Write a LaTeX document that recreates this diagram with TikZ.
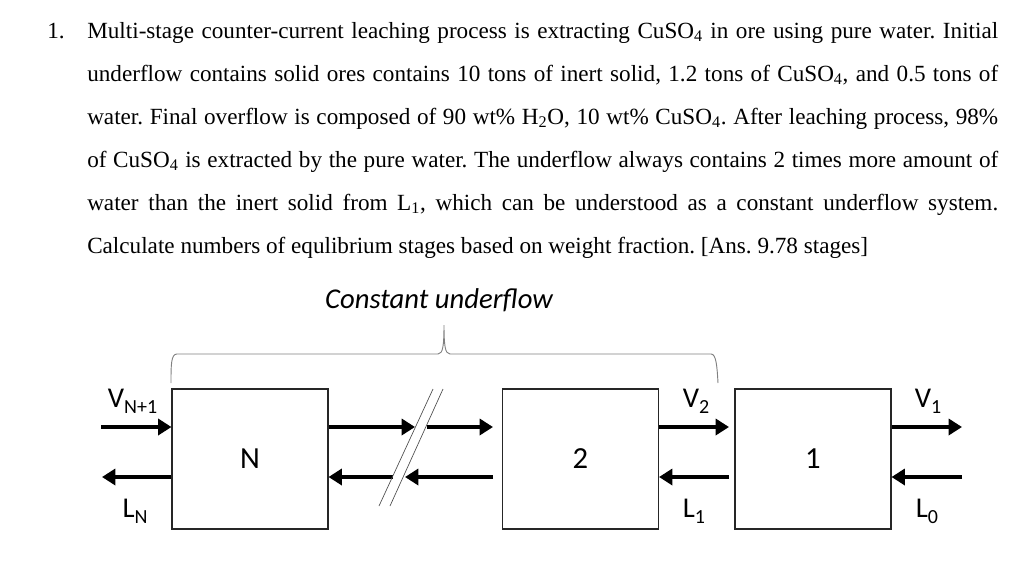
\documentclass[tikz,border=0pt]{standalone}
\usepackage{fontspec}
\setmainfont{Liberation Serif}
\newfontfamily\labelfont{Carlito}
\usetikzlibrary{positioning,calc,arrows.meta}
\newcommand{\lowsub}[1]{\raisebox{-0.45ex}{\fontsize{15}{15}\selectfont #1}}
\tikzset{
    stage/.style={draw=black!85, line width=0.8pt, minimum width=117pt, minimum height=105pt, inner sep=0pt, font=\labelfont\fontsize{23}{27}\selectfont},
    flow/.style={line width=3.4pt, -{Triangle[length=10pt,width=12pt]}},
    flowlabel/.style={font=\labelfont\fontsize{21.5}{25}\selectfont, inner sep=0pt, anchor=base},
    breakmark/.style={draw=black!70, line width=0.5pt},
    bracket/.style={draw=black!50, line width=0.7pt}
}

\begin{document}
\begin{tikzpicture}[x=0.75pt, y=-0.75pt]
    \useasboundingbox (0, 0) rectangle (1018, 579);

    % Problem statement
    \node[anchor=base west, inner sep=0pt, font=\fontsize{17.37}{32.25}\selectfont] (number) at (47, 38) {1.};
    \node[anchor=north west, inner sep=0pt, text width=683.25pt, align=justify, font=\fontsize{17.37}{32.25}\selectfont\frenchspacing] (problem) at (87, 22) {Multi-stage counter-current leaching process is extracting CuSO\textsubscript{4} in ore using pure water. Initial\linebreak
    underflow contains solid ores contains 10 tons of inert solid, 1.2 tons of CuSO\textsubscript{4}, and 0.5 tons of\linebreak
    water. Final overflow is composed of 90 wt\% H\textsubscript{2}O, 10 wt\% CuSO\textsubscript{4}. After leaching process, 98\%\linebreak
    of CuSO\textsubscript{4} is extracted by the pure water. The underflow always contains 2 times more amount of\linebreak
    water than the inert solid from L\textsubscript{1}, which can be understood as a constant underflow system.\linebreak
    Calculate numbers of equlibrium stages based on weight fraction. [Ans. 9.78 stages]};

    % Stages
    \node[stage] (stageN) at (250, 459) {N};
    \node[stage] (stage2) at (580.5, 459) {2};
    \node[stage] (stage1) at (813, 459) {1};

    % Free ends of the streams
    \coordinate (feedV) at (101, 427);
    \coordinate (feedL) at (962, 477);
    \coordinate (endLN) at (102, 477);
    \coordinate (endV1) at (962, 427);
    \coordinate (gapV1) at (415, 427);
    \coordinate (gapV2) at (427, 427);
    \coordinate (gapL1) at (405, 477);
    \coordinate (gapL2) at (393, 477);
    \coordinate (stopV) at (493, 427);
    \coordinate (startL) at (493, 477);
    \coordinate (tipV2) at (729, 427);
    \coordinate (startL1) at (729, 477);

    % Streams
    \draw[flow] (feedV) -- (feedV -| stageN.west);
    \draw[flow] (endLN -| stageN.west) -- (endLN);
    \draw[flow] (gapV1 -| stageN.east) -- (gapV1);
    \draw[flow] (gapV2) -- (stopV);
    \draw[flow] (startL) -- (gapL1);
    \draw[flow] (gapL2) -- (gapL2 -| stageN.east);
    \draw[flow] (tipV2 -| stage2.east) -- (tipV2);
    \draw[flow] (startL1) -- (startL1 -| stage2.east);
    \draw[flow] (endV1 -| stage1.east) -- (endV1);
    \draw[flow] (feedL) -- (feedL -| stage1.east);

    % Break in the cascade
    \draw[breakmark] (433, 389) -- (379, 506);
    \draw[breakmark] (443, 389) -- (390, 506);

    % Stream labels
    \node[flowlabel] (labelVN) at (132.5, 407) {V\lowsub{N+1}};
    \node[flowlabel] (labelLN) at (135, 517) {L\lowsub{N}};
    \node[flowlabel] (labelV2) at (696, 407) {V\lowsub{2}};
    \node[flowlabel] (labelL1) at (694, 517) {L\lowsub{1}};
    \node[flowlabel] (labelV1) at (928, 407) {V\lowsub{1}};
    \node[flowlabel] (labelL0) at (927, 517) {L\lowsub{0}};

    % Bracket over the constant underflow stages
    \draw[bracket] (171, 383) .. controls (171, 365) and (171, 354) .. (177, 354) -- (438, 354)
        .. controls (443, 354) and (444, 345) .. (444, 325)
        .. controls (444, 345) and (445, 354) .. (450, 354) -- (711, 354)
        .. controls (716, 354) and (717, 365) .. (718, 383);
    \node[font=\labelfont\itshape\fontsize{21.5}{25}\selectfont, inner sep=0pt] (title) at (439, 300) {Constant underflow};
\end{tikzpicture}
\end{document}
